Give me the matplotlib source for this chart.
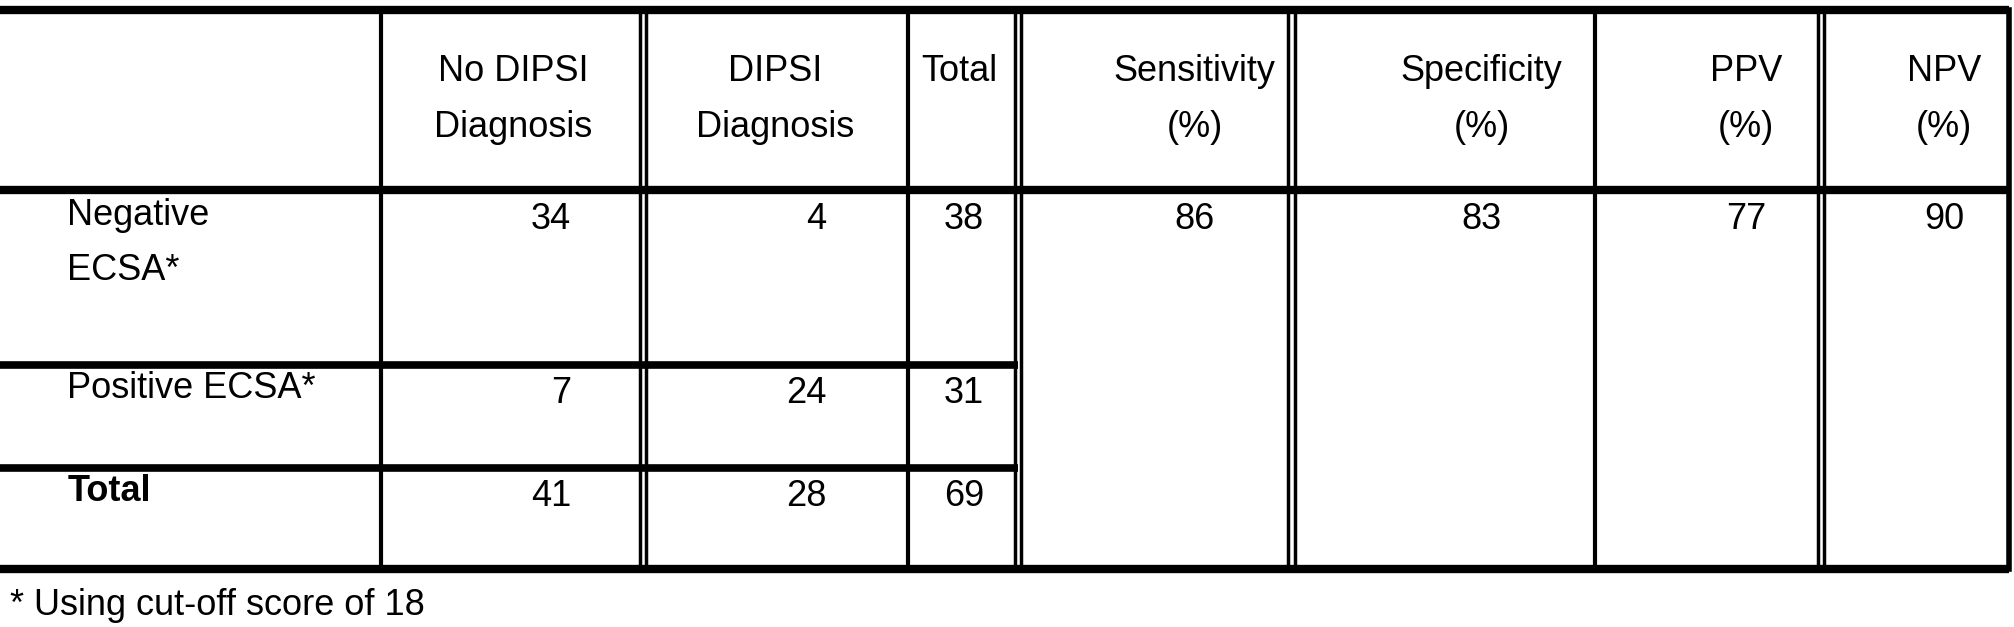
import matplotlib.pyplot as plt

plt.rcParams['font.family'] = ['Liberation Sans', 'DejaVu Sans']

row_labels = ['Negative\nECSA*', 'Positive ECSA*', 'Total']
count_headers = ['No DIPSI\nDiagnosis', 'DIPSI\nDiagnosis', 'Total']
counts = [[34, 4, 38], [7, 24, 31], [41, 28, 69]]
stat_headers = ['Sensitivity', 'Specificity', 'PPV', 'NPV']
stat_values = [86, 83, 77, 90]
footnote = '* Using cut-off score of 18'

W, H = 1560, 485
fig = plt.figure(figsize=(20.15, 6.27), dpi=100)
ax = fig.add_axes([0, 0, 1, 1])
ax.set_xlim(0, W); ax.set_ylim(H, 0); ax.axis('off')

FS = 26
LS = 1.75
# horizontal rules
top, head_b, bot = 8, 147, 440
for y in (top, head_b, bot):
    ax.plot([0, 1555], [y, y], color='black', lw=6, solid_capstyle='butt')
for y in (282, 362):
    ax.plot([0, 788], [y, y], color='black', lw=5.5, solid_capstyle='butt')
# vertical rules
for x in (295, 703, 1235):
    ax.plot([x, x], [top, bot], color='black', lw=3)
for x in (498, 788, 1000, 1410):
    ax.plot([x - 2.5, x - 2.5], [top, bot], color='black', lw=2.5)
    ax.plot([x + 2.5, x + 2.5], [top, bot], color='black', lw=2.5)
ax.plot([1555, 1555], [top, bot], color='black', lw=4)

# headers
cx = [397, 600, 743]
for x, h in zip(cx, count_headers):
    ax.text(x, 42, h, ha='center', va='top', fontsize=FS, linespacing=LS)
sx = [925, 1147, 1352, 1505]
for x, h in zip(sx, stat_headers):
    ax.text(x, 42, h + '\n(%)', ha='center', va='top', fontsize=FS, linespacing=LS)

# rows
ry = [170, 304, 384]
for i, (lab, y) in enumerate(zip(row_labels, ry)):
    ax.text(52, y - 17, lab, ha='left', va='top', fontsize=FS, linespacing=LS,
            fontweight='bold' if lab == 'Total' else 'normal')
    for x, v in zip([442, 640, 762], counts[i]):
        ax.text(x, y, str(v), ha='right', va='center', fontsize=FS)
for x, v in zip(sx, stat_values):
    ax.text(x, 170, str(v), ha='center', va='center', fontsize=FS)

ax.text(8, 468, footnote, ha='left', va='center', fontsize=FS)
fig.savefig('out.png', dpi=100, facecolor='white')
